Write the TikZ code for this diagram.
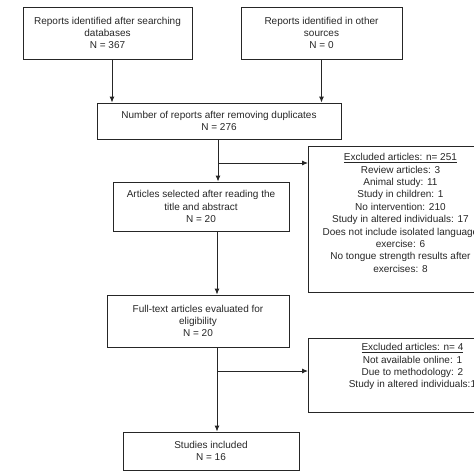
\documentclass[tikz,border=0pt]{standalone}
\usepackage{fontspec}
\setmainfont{Liberation Sans}
\usepackage{tikz}
\usetikzlibrary{arrows.meta}

\tikzset{
    box/.style={draw=black!85, line width=0.9pt, align=center, inner sep=0pt,
        font=\fontsize{10}{12.4}\selectfont, text=black!85},
    arr/.style={draw=black!85, line width=0.9pt, -{Latex[length=6pt,width=5pt]}}
}

\begin{document}
\begin{tikzpicture}[x=1pt,y=-1pt]
    \useasboundingbox (0,0) rectangle (474,474);
    \node[box, minimum width=169pt, minimum height=52pt] (srcdb) at (107.5,33)
        {Reports identified after searching\\ databases\\ N = 367};
    \node[box, minimum width=161pt, minimum height=52pt] (srcoth) at (321.5,33)
        {Reports identified in other\\ sources\\ N = 0};
    \node[box, minimum width=244pt, minimum height=36pt] (dedup) at (219,121)
        {Number of reports after removing duplicates\\ N = 276};
    \node[box, minimum width=176pt, minimum height=49pt] (screen) at (201,206.5)
        {Articles selected after reading the\\ title and abstract\\ N = 20};
    \node[box, minimum width=182pt, minimum height=52pt] (fulltext) at (198,321)
        {Full-text articles evaluated for\\ eligibility\\ N = 20};
    \node[box, minimum width=176pt, minimum height=38pt] (incl) at (211,451)
        {Studies included\\ N = 16};
    % excluded boxes, text at the top
    \node[box, anchor=north west] (excla) at (308,146)
        {\parbox[c][146pt][t]{184pt}{\centering\vspace*{7pt}%
        \underline{Excluded articles: n= 251}\\ Review articles: 3\\ Animal study: 11\\
        Study in children: 1\\ No intervention: 210\\ Study in altered individuals: 17\\
        Does not include isolated language\\ exercise: 6\\
        No tongue strength results after\\ exercises: 8}};
    \node[box, anchor=north west] (exclb) at (308,338)
        {\parbox[c][74pt][t]{208pt}{\centering\vspace*{5pt}%
        \underline{Excluded articles: n= 4}\\ Not available online: 1\\
        Due to methodology: 2\\ Study in altered individuals:1}};
    \coordinate (ja) at (218,163);
    \coordinate (jb) at (217,371);
    \draw[arr] ([xshift=4.5pt]srcdb.south) -- ([xshift=4.5pt]srcdb.south |- dedup.north);
    \draw[arr] (srcoth.south) -- (srcoth.south |- dedup.north);
    \draw[arr] (ja |- dedup.south) -- (ja |- screen.north);
    \draw[arr] (ja) -- (ja -| excla.west);
    \draw[arr] (jb |- screen.south) -- (jb |- fulltext.north);
    \draw[arr] (jb |- fulltext.south) -- (jb |- incl.north);
    \draw[arr] (jb) -- (jb -| exclb.west);
\end{tikzpicture}
\end{document}
